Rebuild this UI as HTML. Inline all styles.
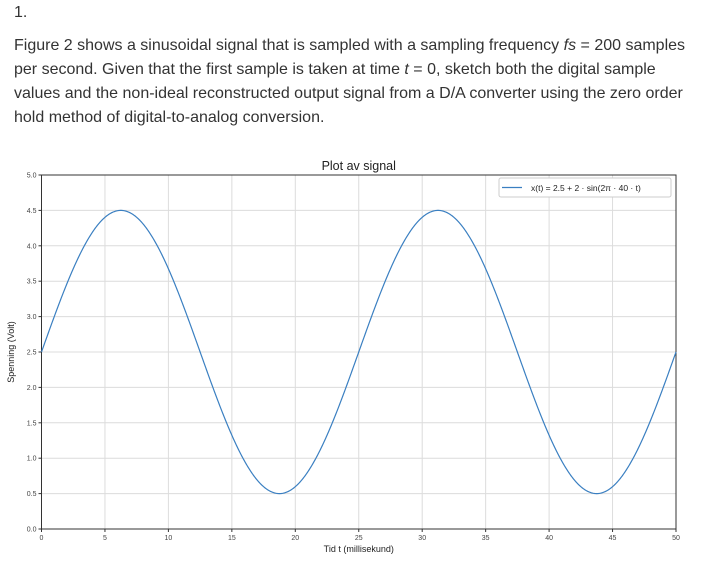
<!DOCTYPE html>
<html><head><meta charset="utf-8"><style>
body{margin:0;width:717px;height:571px;background:#fff;overflow:hidden;font-family:"Liberation Sans",sans-serif;}
#q{position:absolute;left:14px;top:1px;width:703px;font-size:16px;line-height:24px;color:#333;}
#q p{margin:0;white-space:nowrap;}
#q p.num{margin-bottom:9px;}
svg{position:absolute;left:0;top:0;}
</style></head><body>
<div id="q">
<p class="num">1.</p>
<p>Figure 2 shows a sinusoidal signal that is sampled with a sampling frequency <i>fs</i> = 200 samples</p>
<p>per second. Given that the first sample is taken at time <i>t</i> = 0, sketch both the digital sample</p>
<p>values and the non-ideal reconstructed output signal from a D/A converter using the zero order</p>
<p>hold method of digital-to-analog conversion.</p>
</div>
<svg id="chart" width="717" height="571"></svg>
<script>
const xTicks=[0,5,10,15,20,25,30,35,40,45,50];
const yTicks=[0.0,0.5,1.0,1.5,2.0,2.5,3.0,3.5,4.0,4.5,5.0];
const offset=[2.5];
const amplitude=[2];
const freqHz=[40];
const L=41.5,R=676,T=175,B=529;
const xs=t=>L+(t-0)/(50-0)*(R-L);
const ys=v=>B-(v-0)/(5-0)*(B-T);
const svg=document.getElementById('chart');
const NS='http://www.w3.org/2000/svg';
function mk(tag,attrs,name,txt){const e=document.createElementNS(NS,tag);for(const k in attrs)e.setAttribute(k,attrs[k]);


if(txt!==undefined)e.textContent=txt;svg.appendChild(e);return e;}
xTicks.forEach(t=>{mk('line',{x1:xs(t),x2:xs(t),y1:T,y2:B,stroke:'#dcdcdc','stroke-width':1},'x-gridline');
mk('line',{x1:xs(t),x2:xs(t),y1:B,y2:B+3,stroke:'#333'},'x-tick');
mk('text',{x:xs(t),y:B+11,'font-size':7,'text-anchor':'middle',fill:'#444'},'x-tick-label',String(t));});
yTicks.forEach(v=>{mk('line',{x1:L,x2:R,y1:ys(v),y2:ys(v),stroke:'#dcdcdc','stroke-width':1},'y-gridline');
mk('line',{x1:L-3,x2:L,y1:ys(v),y2:ys(v),stroke:'#333'},'y-tick');
mk('text',{x:L-5,y:ys(v)+2.5,'font-size':7,'text-anchor':'end',fill:'#444'},'y-tick-label',v.toFixed(1));});
mk('rect',{x:L,y:T,width:R-L,height:B-T,fill:'none',stroke:'#333','stroke-width':1},'plot-frame');
let d='';for(let i=0;i<=1000;i++){const t=i/1000*50;const v=offset[0]+amplitude[0]*Math.sin(2*Math.PI*freqHz[0]*t/1000);d+=(i?'L':'M')+xs(t).toFixed(2)+','+ys(v).toFixed(2);}
mk('path',{d:d,fill:'none',stroke:'#3a7fc1','stroke-width':1.2},'signal-line');
mk('text',{x:(L+R)/2,y:170,'font-size':12.5,'text-anchor':'middle',fill:'#222'},'chart-title','Plot av signal');
mk('text',{x:(L+R)/2,y:552,'font-size':9,'text-anchor':'middle',fill:'#222'},'x-axis-title','Tid t (millisekund)');
mk('text',{x:14,y:352,'font-size':9,'text-anchor':'middle',fill:'#222',transform:'rotate(-90 14 352)'},'y-axis-title','Spenning (Volt)');
mk('rect',{x:499,y:178,width:172,height:19,fill:'#fff',stroke:'#ccc','stroke-width':1,rx:2},'legend-box');
mk('line',{x1:502,x2:522,y1:187.5,y2:187.5,stroke:'#3a7fc1','stroke-width':1.2},'legend-swatch');
mk('text',{x:531,y:191,'font-size':8.5,fill:'#222'},'legend-label','x(t) = 2.5 + 2 · sin(2π · 40 · t)');
</script>
</body></html>
